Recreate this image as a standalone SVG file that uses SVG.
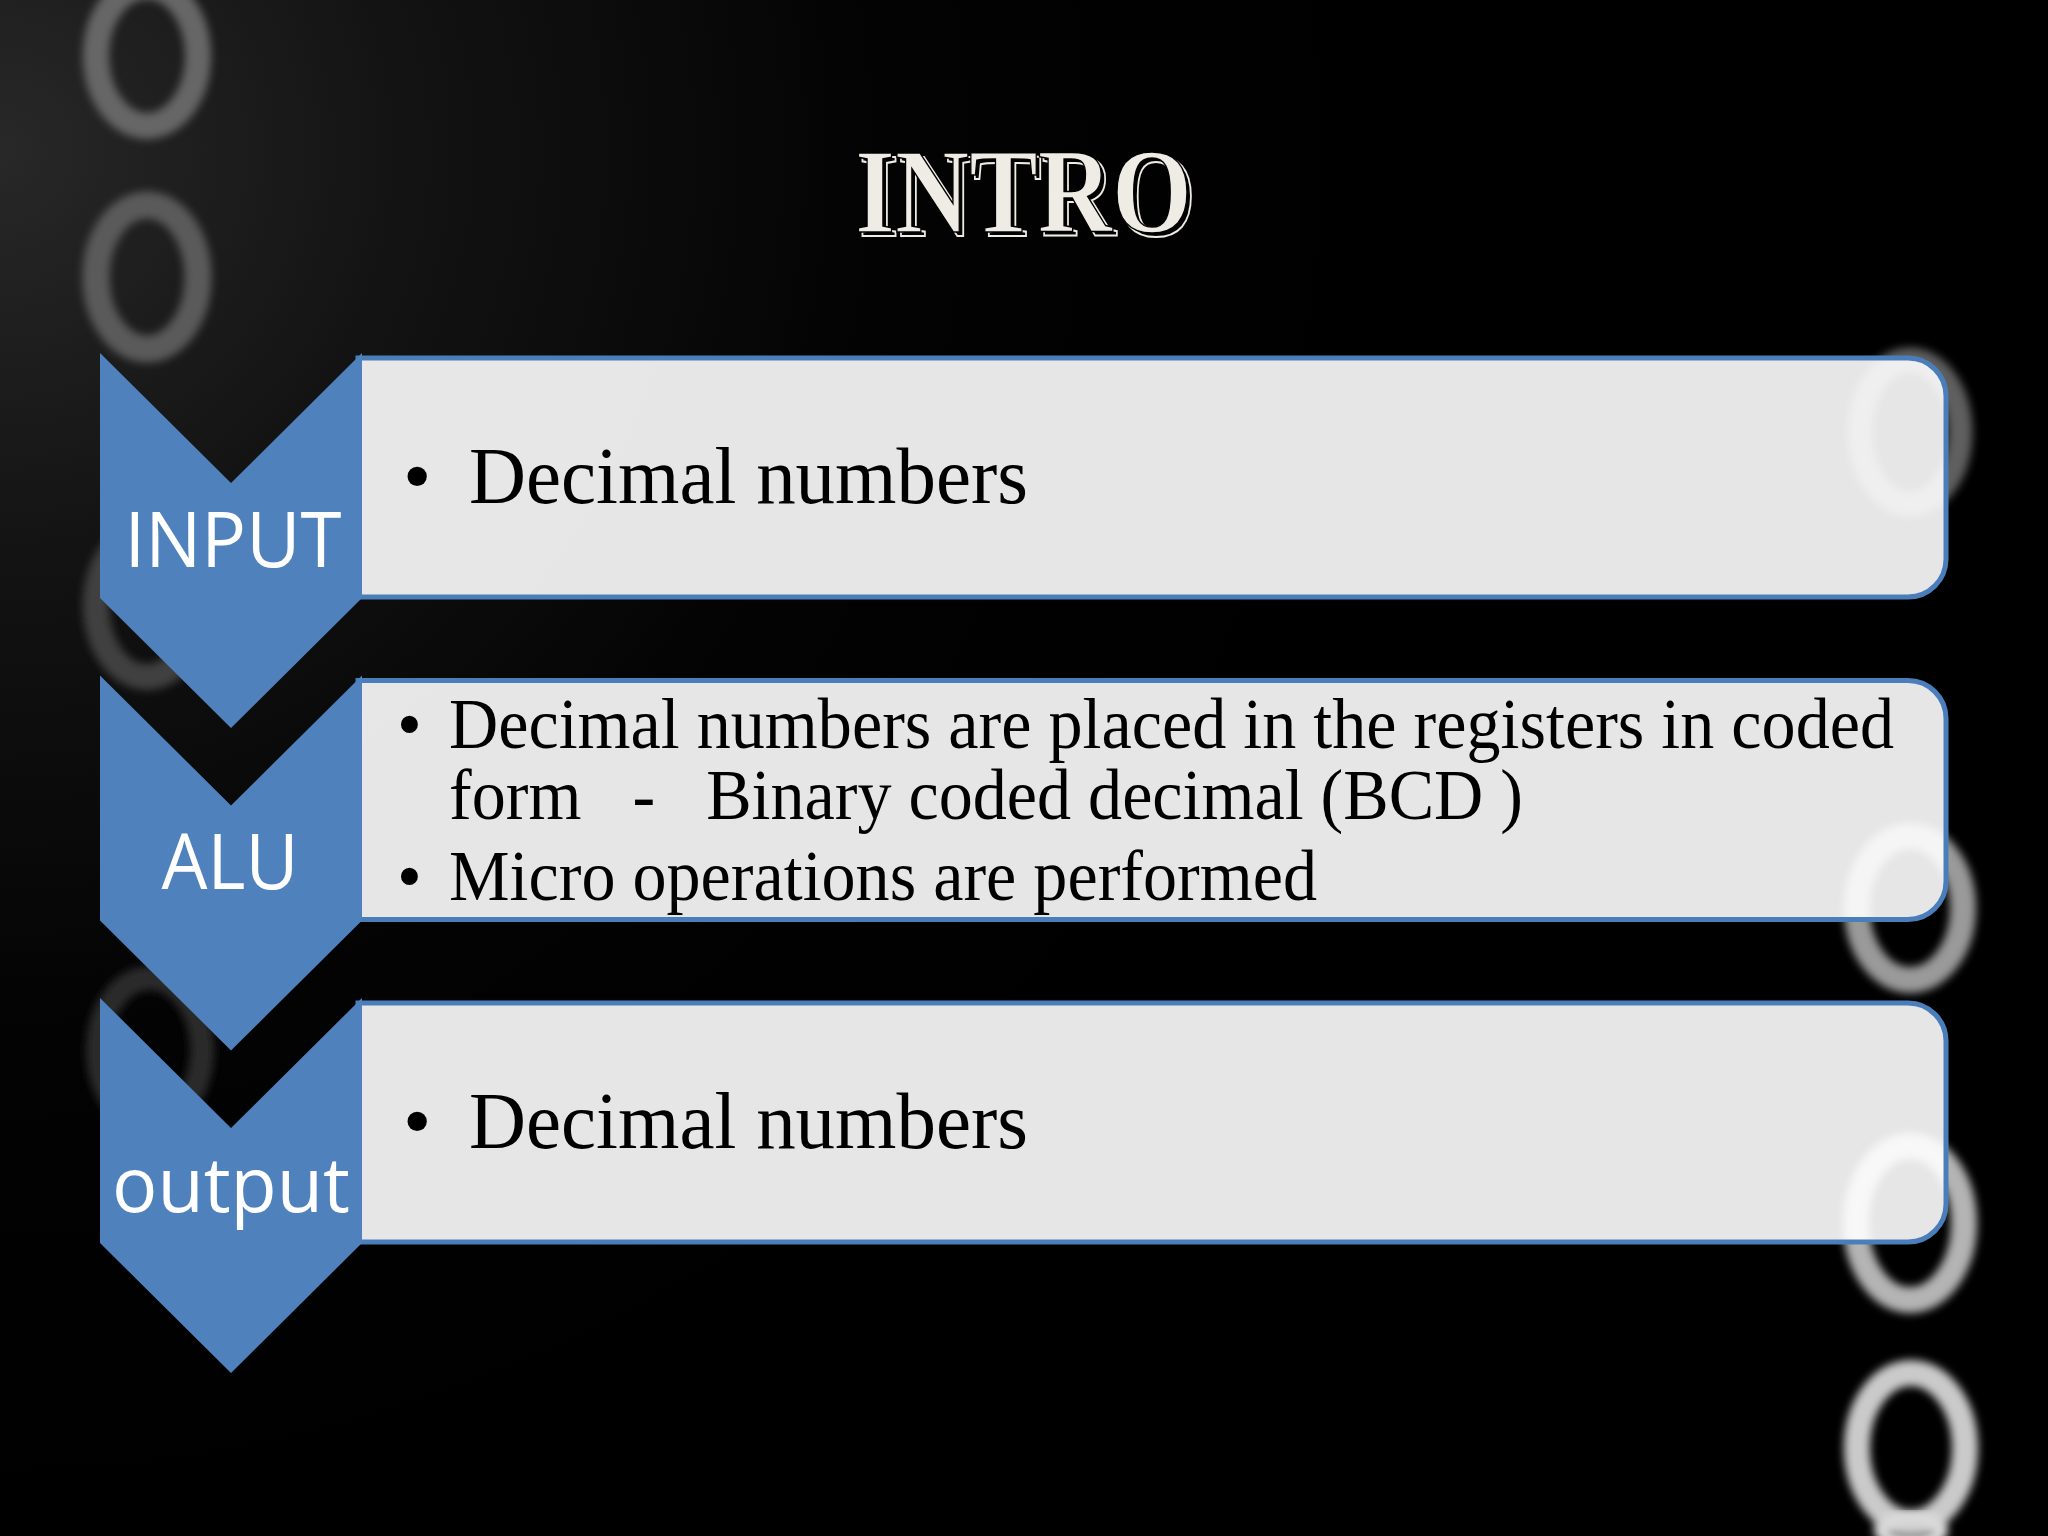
<svg xmlns="http://www.w3.org/2000/svg" width="2048" height="1536" viewBox="0 0 2048 1536">
<defs>
<radialGradient id="bg" cx="0" cy="150" r="1350" gradientUnits="userSpaceOnUse">
<stop offset="0" stop-color="#282828"/>
<stop offset="0.3" stop-color="#131313"/>
<stop offset="0.65" stop-color="#030303"/>
<stop offset="1" stop-color="#000"/>
</radialGradient>
<filter id="blur" x="-30%" y="-30%" width="160%" height="160%">
<feGaussianBlur stdDeviation="4"/>
</filter>
<style>
.ring{fill:none;filter:url(#blur)}
.chev{fill:#4F81BD}
.box{fill:#fff;fill-opacity:0.9;stroke:#4A7EBB;stroke-width:5}
.lbl{font-family:"Open Sans","Liberation Sans",sans-serif;font-size:77px;fill:#fff;text-anchor:middle}
.body{font-family:"Liberation Serif","Times New Roman",serif;fill:#000;white-space:pre}
.t1{font-size:81px}
.t2{font-size:71px}
.title{font-family:"Liberation Serif","Times New Roman",serif;font-weight:bold;font-size:120px}
</style>
</defs>
<rect id="background" x="0" y="0" width="2048" height="1536" fill="url(#bg)"/>
<g id="rings">
<ellipse class="ring" cx="147" cy="56" rx="51" ry="70" stroke="#666" stroke-width="26"/>
<ellipse class="ring" cx="147" cy="277" rx="51" ry="72" stroke="#5a5a5a" stroke-width="27"/>
<ellipse class="ring" cx="147" cy="605" rx="51" ry="72" stroke="#404040" stroke-width="26"/>
<ellipse class="ring" cx="150" cy="1050" rx="52" ry="72" stroke="#2a2a2a" stroke-width="24"/>
<ellipse class="ring" cx="1910" cy="432" rx="50" ry="72" stroke="#5e5e5e" stroke-width="25"/>
<ellipse class="ring" cx="1910" cy="908" rx="53" ry="72" stroke="#9a9a9a" stroke-width="26"/>
<ellipse class="ring" cx="1910" cy="1223" rx="54" ry="77" stroke="#b4b4b4" stroke-width="26"/>
<ellipse class="ring" cx="1911" cy="1448" rx="54" ry="75" stroke="#cacaca" stroke-width="26"/>
<ellipse class="ring" cx="1911" cy="1530" rx="30" ry="12" stroke="#dadada" stroke-width="14"/>
</g>
<g id="title">
<text class="title" x="859" y="236" textLength="337" lengthAdjust="spacingAndGlyphs" fill="none" stroke="#EEECE4" stroke-width="2">INTRO</text>
<text class="title" x="855" y="232" textLength="337" lengthAdjust="spacingAndGlyphs" fill="#EEECE4" stroke="#000" stroke-width="1.5">INTRO</text>
</g>
<g id="connectors"></g>
<g id="node-input">
<path class="box" d="M358,358 H1908 A38,38 0 0 1 1946,396 V559 A38,38 0 0 1 1908,597 H358 Z"/>
<polygon class="chev" points="100,353 231,483 362,353 362,598 231,728 100,598"/>
<text class="lbl" x="233" y="567" textLength="217" lengthAdjust="spacingAndGlyphs">INPUT</text>
<text class="body t1" x="403" y="503">•</text>
<text class="body t1" x="469" y="503" textLength="559" lengthAdjust="spacingAndGlyphs">Decimal numbers</text>
</g>
<g id="node-alu">
<path class="box" d="M358,680.5 H1908 A38,38 0 0 1 1946,718.5 V881.5 A38,38 0 0 1 1908,919.5 H358 Z"/>
<polygon class="chev" points="100,675.5 231,805.5 362,675.5 362,920.5 231,1050.5 100,920.5"/>
<text class="lbl" x="230" y="889" textLength="137" lengthAdjust="spacingAndGlyphs">ALU</text>
<text class="body t2" x="397" y="748">•</text>
<text class="body t2" x="449" y="748" textLength="1445" lengthAdjust="spacingAndGlyphs">Decimal numbers are placed in the registers in coded</text>
<text class="body t2" x="449" y="819" textLength="1074" lengthAdjust="spacingAndGlyphs">form   -   Binary coded decimal (BCD )</text>
<text class="body t2" x="397" y="900">•</text>
<text class="body t2" x="449" y="900" textLength="868" lengthAdjust="spacingAndGlyphs">Micro operations are performed</text>
</g>
<g id="node-output">
<path class="box" d="M358,1003 H1908 A38,38 0 0 1 1946,1041 V1204 A38,38 0 0 1 1908,1242 H358 Z"/>
<polygon class="chev" points="100,998 231,1128 362,998 362,1243 231,1373 100,1243"/>
<text class="lbl" x="231" y="1212" textLength="238" lengthAdjust="spacingAndGlyphs">output</text>
<text class="body t1" x="403" y="1148">•</text>
<text class="body t1" x="469" y="1148" textLength="559" lengthAdjust="spacingAndGlyphs">Decimal numbers</text>
</g>
</svg>
